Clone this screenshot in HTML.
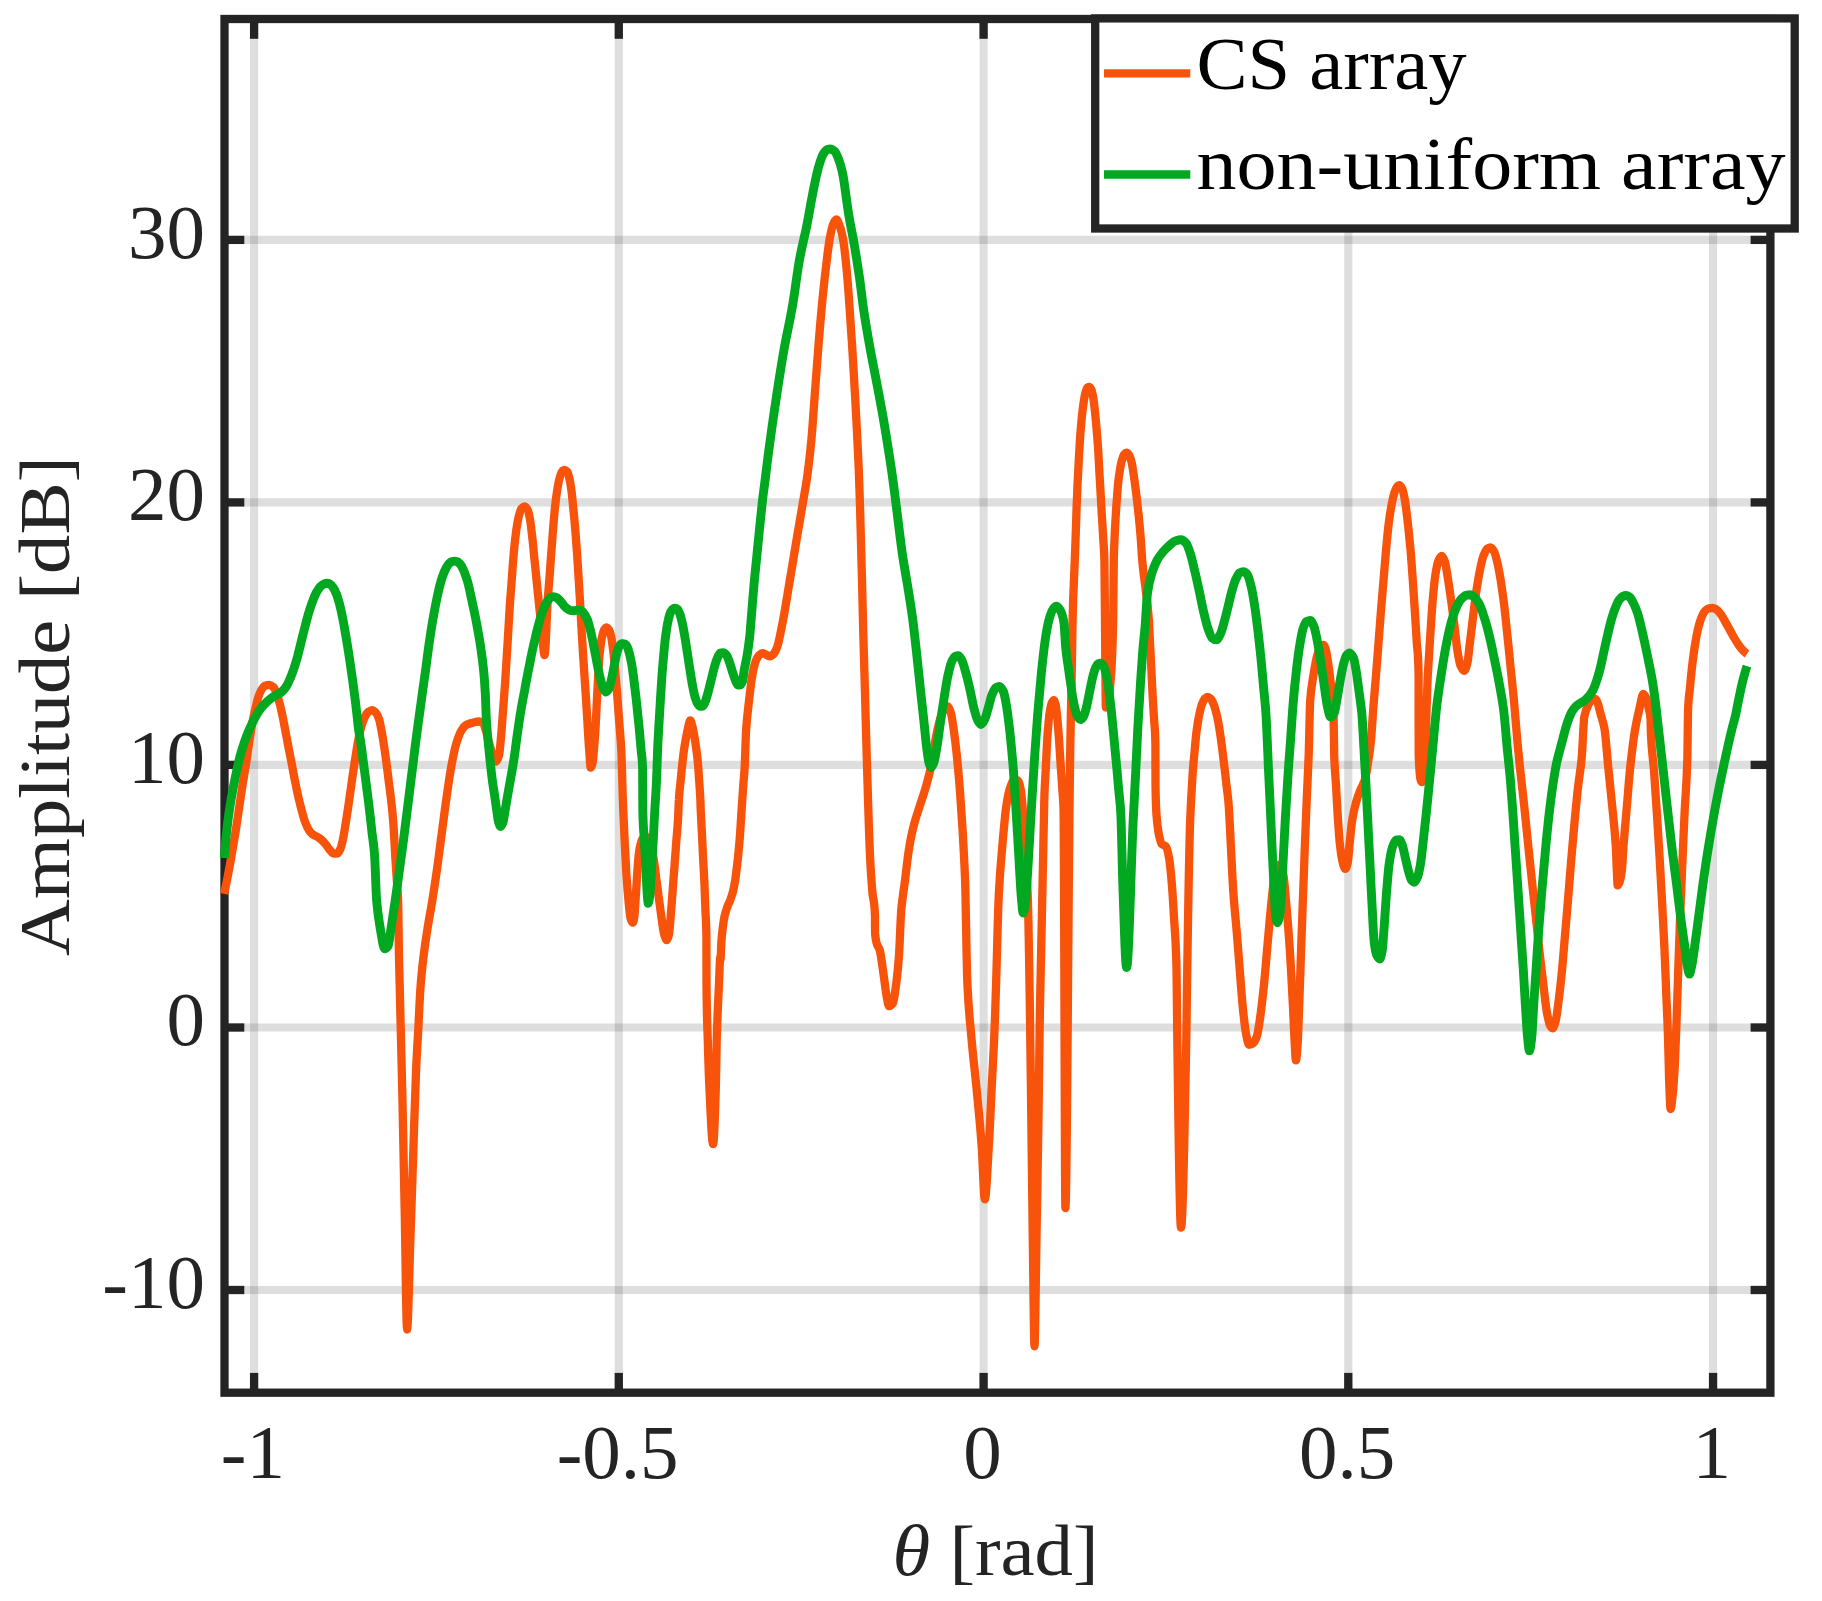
<!DOCTYPE html>
<html lang="en"><head><meta charset="utf-8"><title>Amplitude vs theta: CS array and non-uniform array</title>
<style>html,body{margin:0;padding:0;background:#fff}body{width:1822px;height:1601px;position:relative;overflow:hidden}</style></head>
<body>
<svg width="1822" height="1601" viewBox="0 0 1822 1601" style="position:absolute;left:0;top:0">
<rect x="0" y="0" width="1822" height="1601" fill="#fff"/>
<g stroke="#242424" stroke-opacity="0.15" stroke-width="8.1" fill="none"><line x1="254.1" y1="19.0" x2="254.1" y2="1392.7"/><line x1="618.8" y1="19.0" x2="618.8" y2="1392.7"/><line x1="983.6" y1="19.0" x2="983.6" y2="1392.7"/><line x1="1348.3" y1="19.0" x2="1348.3" y2="1392.7"/><line x1="1713.05" y1="19.0" x2="1713.05" y2="1392.7"/><line x1="224.5" y1="239.9" x2="1770.4" y2="239.9"/><line x1="224.5" y1="502.4" x2="1770.4" y2="502.4"/><line x1="224.5" y1="764.9" x2="1770.4" y2="764.9"/><line x1="224.5" y1="1027.5" x2="1770.4" y2="1027.5"/><line x1="224.5" y1="1290.0" x2="1770.4" y2="1290.0"/></g>
<g stroke="#242424" stroke-width="8.3" fill="none"><line x1="254.1" y1="1392.7" x2="254.1" y2="1372.9"/><line x1="254.1" y1="19.0" x2="254.1" y2="38.8"/><line x1="618.8" y1="1392.7" x2="618.8" y2="1372.9"/><line x1="618.8" y1="19.0" x2="618.8" y2="38.8"/><line x1="983.6" y1="1392.7" x2="983.6" y2="1372.9"/><line x1="983.6" y1="19.0" x2="983.6" y2="38.8"/><line x1="1348.3" y1="1392.7" x2="1348.3" y2="1372.9"/><line x1="1348.3" y1="19.0" x2="1348.3" y2="38.8"/><line x1="1713.05" y1="1392.7" x2="1713.05" y2="1372.9"/><line x1="1713.05" y1="19.0" x2="1713.05" y2="38.8"/><line x1="224.5" y1="239.9" x2="244.3" y2="239.9"/><line x1="1770.4" y1="239.9" x2="1750.6000000000001" y2="239.9"/><line x1="224.5" y1="502.4" x2="244.3" y2="502.4"/><line x1="1770.4" y1="502.4" x2="1750.6000000000001" y2="502.4"/><line x1="224.5" y1="764.9" x2="244.3" y2="764.9"/><line x1="1770.4" y1="764.9" x2="1750.6000000000001" y2="764.9"/><line x1="224.5" y1="1027.5" x2="244.3" y2="1027.5"/><line x1="1770.4" y1="1027.5" x2="1750.6000000000001" y2="1027.5"/><line x1="224.5" y1="1290.0" x2="244.3" y2="1290.0"/><line x1="1770.4" y1="1290.0" x2="1750.6000000000001" y2="1290.0"/></g>
<rect x="224.5" y="19.0" width="1545.9" height="1373.7" fill="none" stroke="#242424" stroke-width="8.3"/>
<path d="M224.1 893.8C227.7 877.9 231.4 857.3 235.0 835.2C236.3 827.7 237.5 818.5 238.8 810.2C240.0 801.8 241.3 793.0 242.5 785.2C243.6 778.6 244.6 773.0 245.7 766.4C246.7 759.7 247.7 752.0 248.8 745.1C249.8 738.2 250.9 730.8 251.9 725.1C253.0 719.4 254.0 714.6 255.0 710.1C256.1 705.5 257.1 700.7 258.2 697.5C259.2 694.4 260.3 691.7 261.3 690.0C262.5 688.1 263.8 686.1 265.0 685.7C266.4 685.2 267.8 684.8 269.2 684.8C270.5 684.8 271.8 685.8 273.2 686.9C274.2 687.8 275.3 690.1 276.3 692.5C277.4 694.9 278.4 698.7 279.4 702.6C280.5 706.4 281.5 711.3 282.6 716.3C283.6 721.3 284.7 727.2 285.7 732.6C286.7 738.0 287.8 743.4 288.8 748.9C289.9 754.3 290.9 759.7 292.0 765.1C293.0 770.6 294.0 776.2 295.1 781.4C296.1 786.6 297.2 791.9 298.2 796.4C299.3 801.0 300.3 805.0 301.3 808.9C302.4 812.9 303.4 817.2 304.5 820.2C305.5 823.2 306.6 825.8 307.6 827.7C308.8 830.0 310.1 832.2 311.4 833.3C312.6 834.5 313.9 835.1 315.1 835.8C316.4 836.6 317.6 836.9 318.9 837.7C320.1 838.5 321.4 839.6 322.6 840.9C323.9 842.1 325.1 843.7 326.4 845.2C327.6 846.8 328.9 848.9 330.1 850.2C331.4 851.6 332.6 853.7 333.9 853.7C335.1 853.7 336.4 853.6 337.6 853.4C338.7 853.2 339.7 850.4 340.8 847.7C341.6 845.6 342.4 841.7 343.3 837.7C344.1 833.7 344.9 827.9 345.8 822.7C346.6 817.5 347.4 812.1 348.3 806.4C349.1 800.8 349.9 794.8 350.8 788.9C351.6 783.1 352.4 777.0 353.3 771.4C354.1 765.8 354.9 760.3 355.8 755.1C356.6 749.9 357.4 744.4 358.3 740.1C359.3 734.8 360.4 729.9 361.4 726.3C362.4 722.8 363.5 719.6 364.5 717.6C365.8 715.1 367.0 712.9 368.3 711.9C369.5 711.0 370.8 710.1 372.0 710.1C373.3 710.1 374.5 711.3 375.8 712.6C376.8 713.6 377.9 715.9 378.9 718.8C379.8 721.2 380.6 725.8 381.4 730.1C382.3 734.4 383.1 739.7 383.9 745.1C384.8 750.5 385.6 756.4 386.4 762.6C387.3 768.9 388.1 776.0 388.9 782.7C389.8 789.3 390.6 795.0 391.4 802.7C392.1 808.4 392.7 814.4 393.3 822.7C393.9 831.0 394.6 845.3 395.2 855.4C396.0 868.9 396.9 880.1 397.7 893.0C397.8 895.3 398.0 896.4 398.1 900.0C398.4 906.8 398.7 942.8 399.0 957.5C399.5 981.9 400.0 995.2 400.4 1014.9C401.1 1042.6 401.8 1070.2 402.5 1101.1C403.2 1136.4 404.0 1178.0 404.8 1216.1C405.5 1254.1 406.3 1329.5 407.1 1329.5C408.1 1329.5 409.2 1274.7 410.2 1244.8C411.2 1217.6 412.1 1187.3 413.1 1158.6C414.0 1129.9 415.0 1094.3 416.0 1072.4C416.7 1054.9 417.5 1043.7 418.3 1029.3C419.0 1014.9 419.8 996.3 420.6 986.2C421.5 973.6 422.5 965.5 423.4 957.5C424.8 946.2 426.1 937.3 427.5 928.7C428.8 920.2 430.1 913.7 431.5 905.5C433.2 895.3 434.8 884.6 436.5 872.9C438.2 861.3 439.8 847.9 441.5 835.4C443.2 822.9 444.8 809.5 446.5 797.8C448.2 786.2 449.8 774.2 451.5 765.3C453.2 756.4 454.8 748.1 456.5 742.8C458.2 737.4 459.8 732.8 461.5 730.3C463.2 727.7 464.9 725.6 466.5 724.7C468.6 723.7 470.7 723.3 472.8 722.7C474.9 722.2 476.9 721.5 479.0 721.5C480.3 721.5 481.5 722.0 482.8 722.7C483.8 723.3 484.8 727.2 485.8 730.3C486.9 733.5 488.0 738.9 489.0 742.8C490.3 747.2 491.5 752.2 492.8 755.3C493.9 757.9 495.0 761.5 496.1 761.5C497.1 761.5 498.1 758.8 499.1 755.3C499.9 752.3 500.7 739.7 501.6 730.3C502.8 716.1 504.1 698.5 505.3 680.2C506.9 657.1 508.5 625.5 510.0 602.7C510.7 593.6 511.3 586.0 511.9 577.7C512.5 569.3 513.2 559.4 513.8 552.6C514.6 543.6 515.5 535.8 516.3 530.1C517.1 524.4 518.0 519.6 518.8 516.3C519.6 513.1 520.5 509.9 521.3 508.8C522.4 507.5 523.6 506.3 524.7 506.3C525.7 506.3 526.8 508.1 527.8 510.1C528.6 511.6 529.3 515.8 530.1 520.1C530.9 524.8 531.7 532.7 532.6 540.1C533.2 545.7 533.8 552.6 534.4 558.9C535.1 565.2 535.7 571.4 536.3 577.7C536.9 583.9 537.6 590.2 538.2 596.4C538.8 602.7 539.5 609.0 540.1 615.2C540.7 621.5 541.3 628.4 542.0 634.0C542.8 641.9 543.7 655.2 544.6 655.2C545.6 655.2 546.6 617.6 547.6 602.7C548.2 593.3 548.8 586.0 549.5 577.7C550.1 569.3 550.7 561.0 551.3 552.6C552.0 544.3 552.6 535.3 553.2 527.6C553.8 519.9 554.5 512.0 555.1 506.3C555.9 498.7 556.8 492.3 557.6 487.6C558.4 482.9 559.3 478.8 560.1 476.3C560.9 473.8 561.8 471.2 562.6 470.7C563.3 470.2 564.0 469.8 564.7 469.8C565.6 469.8 566.5 470.8 567.4 471.9C568.1 472.9 568.8 475.8 569.5 478.8C570.1 481.4 570.7 485.5 571.4 490.1C572.0 494.6 572.6 501.4 573.2 507.6C573.9 513.8 574.5 520.2 575.1 527.6C575.7 535.0 576.4 543.7 577.0 552.6C577.5 560.4 578.1 569.0 578.6 577.7C579.1 585.7 579.6 593.8 580.1 602.7C580.5 609.7 580.9 618.1 581.3 625.0C581.8 633.9 582.3 642.0 582.8 650.1C583.3 658.7 583.9 666.8 584.4 675.1C585.0 683.4 585.5 691.4 586.1 700.1C586.6 708.1 587.1 717.1 587.6 725.2C588.1 733.8 588.6 743.1 589.2 750.2C589.7 756.8 590.2 767.5 590.7 767.5C591.3 767.5 591.9 765.2 592.6 762.7C593.2 760.2 593.8 751.5 594.4 743.9C594.9 738.9 595.3 732.3 595.7 725.2C596.1 718.0 596.5 708.5 596.9 700.1C597.4 691.8 597.8 682.0 598.2 675.1C598.7 666.1 599.3 657.7 599.8 652.6C600.5 645.8 601.2 640.7 601.9 637.5C602.8 633.8 603.6 630.8 604.4 629.4C605.1 628.4 605.7 627.3 606.3 627.3C607.2 627.3 608.0 628.3 608.8 629.4C609.6 630.4 610.3 633.1 611.1 636.3C611.7 638.8 612.2 643.1 612.8 647.6C613.4 651.7 613.9 657.0 614.5 662.6C615.0 668.1 615.5 674.8 616.1 681.4C616.6 687.4 617.1 693.7 617.6 700.1C618.2 708.2 618.8 716.8 619.5 725.2C620.1 733.5 620.7 738.1 621.3 750.2C621.8 759.5 622.3 784.4 622.8 797.5C623.3 812.3 623.9 823.5 624.4 835.1C625.0 848.5 625.7 862.9 626.3 872.6C627.1 885.6 628.0 895.9 628.8 903.9C629.4 910.0 630.0 917.1 630.7 918.9C631.4 921.0 632.1 922.7 632.8 922.7C633.3 922.7 633.9 919.9 634.4 916.4C634.8 913.8 635.3 903.9 635.7 897.7C636.1 891.4 636.5 885.2 636.9 878.9C637.3 872.6 637.8 864.3 638.2 860.1C638.8 853.8 639.4 849.1 640.1 846.4C640.9 842.7 641.7 839.8 642.6 838.8C643.7 837.6 644.9 836.6 646.1 836.6C647.4 836.6 648.7 839.6 650.1 842.6C651.3 845.5 652.6 852.8 653.8 860.1C654.7 865.0 655.5 872.6 656.3 878.9C657.2 885.2 658.0 891.4 658.8 897.7C659.7 903.9 660.5 910.6 661.3 916.4C662.2 922.3 663.0 929.5 663.8 932.7C664.7 936.3 665.7 940.2 666.6 940.2C667.3 940.2 668.1 938.0 668.8 935.2C669.5 932.9 670.1 923.6 670.7 916.4C671.3 909.3 672.0 899.8 672.6 891.4C673.2 883.1 673.8 874.7 674.5 866.4C675.1 858.0 675.7 849.7 676.3 841.4C677.0 833.0 677.6 828.0 678.2 816.3C678.4 812.4 678.6 803.4 678.9 800.0C679.4 790.5 680.0 787.2 680.6 781.2C681.2 774.7 681.8 768.0 682.5 762.5C683.1 757.0 683.7 751.9 684.3 747.7C685.1 742.9 685.8 739.0 686.5 735.2C687.2 731.9 687.8 728.6 688.4 726.2C689.0 723.9 689.7 720.3 690.3 720.3C690.9 720.3 691.5 723.4 692.2 725.6C692.8 728.0 693.5 731.4 694.2 735.2C694.8 738.6 695.5 743.1 696.1 747.7C696.7 752.2 697.3 756.0 697.9 762.5C698.3 766.9 698.7 774.9 699.2 781.2C699.6 787.5 700.0 791.2 700.4 800.0C700.5 802.4 700.6 807.2 700.7 810.1C701.2 820.3 701.6 826.8 702.0 835.1C702.4 843.4 702.8 851.8 703.2 860.1C703.7 868.5 704.1 875.2 704.5 885.2C704.8 892.1 705.1 902.4 705.4 910.2C705.7 919.1 706.0 914.8 706.4 935.2C706.4 937.7 706.5 979.6 706.5 983.7C706.9 1024.9 707.3 1023.3 707.7 1037.4C708.3 1059.7 708.9 1078.3 709.6 1091.1C710.7 1114.9 711.9 1144.1 713.1 1144.1C714.0 1144.1 714.9 1118.1 715.7 1091.1C716.1 1080.4 716.5 1049.8 716.8 1037.4C717.5 1012.6 718.3 999.5 719.0 983.7C719.4 973.9 719.9 956.9 720.3 956.9C720.4 956.9 720.4 960.0 720.4 960.0C720.8 960.0 721.1 945.8 721.4 941.5C721.8 935.9 722.2 932.3 722.6 929.0C723.3 923.9 723.9 919.4 724.5 916.4C725.4 912.6 726.2 910.1 727.0 907.7C728.1 904.7 729.1 903.0 730.2 900.2C731.0 897.9 731.8 895.8 732.7 892.7C733.5 889.5 734.3 885.3 735.2 880.2C736.0 875.0 736.8 867.6 737.7 860.1C738.3 854.5 738.9 849.0 739.5 841.4C740.0 836.3 740.4 828.8 740.8 822.6C741.2 816.3 741.6 810.1 742.0 803.8C742.5 797.5 742.9 790.6 743.3 785.0C743.7 779.5 744.1 776.8 744.5 770.0C745.1 761.7 745.6 738.0 746.1 730.3C747.1 715.1 748.1 708.9 749.1 700.2C750.2 690.8 751.2 681.1 752.3 675.2C753.4 669.3 754.5 664.2 755.6 661.4C756.8 658.5 757.9 656.2 759.1 655.2C760.2 654.2 761.3 653.2 762.3 653.2C763.6 653.2 764.8 654.1 766.1 654.7C767.4 655.2 768.6 656.4 769.9 656.4C771.1 656.4 772.4 655.2 773.6 653.9C774.9 652.7 776.1 649.8 777.4 646.4C778.6 643.0 779.9 636.1 781.1 630.1C782.4 624.1 783.6 617.2 784.9 610.1C786.1 603.0 787.4 595.1 788.6 587.6C789.9 580.1 791.1 572.6 792.4 565.0C793.6 557.5 794.9 550.0 796.1 542.5C798.2 530.1 800.3 517.9 802.4 505.5C804.1 495.5 805.7 487.4 807.4 475.4C808.6 466.5 809.9 456.0 811.1 442.9C812.4 429.7 813.7 409.5 814.9 392.8C816.2 376.1 817.4 358.1 818.7 342.8C819.9 327.4 821.2 313.0 822.4 300.2C823.7 287.4 824.9 275.4 826.2 265.2C827.4 254.9 828.7 244.3 829.9 237.6C831.0 231.9 832.1 226.3 833.2 223.9C834.2 221.7 835.2 219.4 836.2 219.4C837.4 219.4 838.7 223.1 839.9 226.4C841.0 229.2 842.1 234.0 843.2 240.1C844.2 245.8 845.2 255.2 846.2 265.2C847.3 275.9 848.4 290.5 849.4 305.2C850.4 318.8 851.4 334.3 852.4 350.3C853.3 363.6 854.1 377.9 854.9 392.8C855.6 404.8 856.3 417.0 856.9 430.4C857.5 442.1 858.1 453.2 858.7 467.9C859.1 478.4 859.5 491.7 860.0 505.5C860.6 527.5 861.3 554.2 862.0 580.1C862.4 596.2 862.8 614.3 863.2 630.1C863.8 652.2 864.4 671.8 865.0 692.7C865.5 713.6 866.1 735.2 866.7 755.3C867.2 772.5 867.7 789.9 868.2 805.3C868.8 823.4 869.4 843.7 870.0 855.4C870.8 872.1 871.6 883.6 872.5 893.0C873.3 902.3 874.1 896.1 875.0 915.5C875.0 916.4 875.0 933.6 875.1 934.0C876.8 950.4 878.4 943.8 880.1 951.5C881.4 957.7 882.8 969.2 884.1 978.3C885.0 984.5 885.9 992.5 886.8 997.1C887.5 1000.8 888.2 1006.0 889.0 1006.0C890.3 1006.0 891.6 1004.9 893.0 1003.1C894.1 1001.6 895.1 991.8 896.2 983.7C897.1 977.0 898.0 968.8 898.9 956.9C899.7 946.4 900.5 919.7 901.2 910.5C902.5 895.8 903.8 890.5 905.0 880.4C906.3 870.4 907.5 858.2 908.8 850.4C910.4 840.0 912.1 831.9 913.8 825.4C915.8 817.2 917.9 812.0 920.0 805.3C922.1 798.7 924.2 792.8 926.3 785.3C927.9 779.4 929.6 773.3 931.3 765.3C932.9 757.3 934.6 743.3 936.3 735.3C938.0 727.2 939.6 719.6 941.3 715.2C942.5 711.9 943.8 708.7 945.0 707.7C945.9 707.1 946.7 706.5 947.5 706.5C948.6 706.5 949.7 709.6 950.8 712.7C951.8 715.6 952.8 723.4 953.8 730.3C954.8 737.1 955.8 745.6 956.8 755.3C957.9 765.8 959.0 778.6 960.1 792.8C960.9 803.8 961.7 816.1 962.6 830.4C963.4 844.7 964.2 857.3 965.1 880.4C965.8 901.8 966.6 967.1 967.4 983.7C968.7 1012.7 970.1 1022.0 971.4 1037.4C973.2 1058.0 975.0 1072.3 976.8 1091.1C978.4 1108.1 980.0 1122.9 981.6 1144.9C982.7 1159.5 983.8 1199.4 984.8 1199.4C986.2 1199.4 987.5 1166.8 988.9 1144.9C989.8 1130.2 990.7 1109.1 991.5 1091.1C992.4 1073.2 993.3 1058.7 994.2 1037.4C994.9 1022.5 995.5 1002.8 996.1 983.7C997.0 955.8 997.9 910.7 998.9 893.0C1000.1 868.6 1001.4 857.2 1002.6 842.9C1003.9 828.6 1005.1 813.3 1006.4 805.3C1007.6 797.4 1008.9 791.3 1010.1 787.8C1011.4 784.3 1012.6 780.3 1013.9 780.3C1015.1 780.3 1016.4 780.3 1017.6 780.3C1018.7 780.3 1019.8 785.0 1020.9 790.3C1021.7 794.4 1022.5 805.5 1023.4 817.9C1024.0 826.5 1024.6 845.0 1025.1 855.4C1026.0 870.3 1026.8 873.5 1027.6 893.0C1028.4 910.9 1029.2 961.7 1029.9 1010.6C1030.4 1039.0 1030.8 1082.2 1031.3 1118.0C1031.7 1153.8 1032.2 1193.3 1032.6 1225.4C1033.3 1270.4 1033.9 1346.3 1034.5 1346.3C1035.2 1346.3 1035.9 1266.0 1036.7 1225.4C1037.3 1189.9 1037.9 1160.2 1038.5 1118.0C1039.0 1087.9 1039.4 1038.6 1039.9 1010.6C1041.4 916.3 1042.9 834.6 1044.4 795.2C1044.8 784.3 1045.2 778.5 1045.7 770.2C1046.1 761.8 1046.5 752.3 1046.9 745.2C1047.3 738.0 1047.7 731.0 1048.2 726.4C1048.8 719.4 1049.4 713.5 1050.0 710.1C1050.7 706.7 1051.3 703.9 1051.9 702.6C1052.5 701.4 1053.2 700.1 1053.8 700.1C1054.4 700.1 1055.0 702.6 1055.7 705.1C1056.2 707.3 1056.7 712.5 1057.3 717.6C1057.7 721.6 1058.1 727.1 1058.5 732.6C1059.0 738.2 1059.4 745.2 1059.8 751.4C1060.2 757.7 1060.6 763.9 1061.0 770.2C1061.5 776.4 1061.9 782.7 1062.3 789.0C1062.7 795.2 1063.1 796.7 1063.5 807.7C1064.2 824.1 1064.8 1208.0 1065.4 1208.0C1066.9 1208.0 1068.3 902.7 1069.8 782.7C1070.0 769.1 1070.1 755.2 1070.3 745.2C1070.5 732.5 1070.7 724.3 1070.9 713.9C1071.1 703.4 1071.3 694.2 1071.6 682.6C1071.7 673.3 1071.9 661.7 1072.1 651.3C1072.2 640.9 1072.4 626.9 1072.6 620.0C1073.3 589.5 1074.0 580.6 1074.8 560.0C1075.1 551.9 1075.4 543.5 1075.7 535.2C1076.0 526.9 1076.2 518.0 1076.5 510.2C1076.9 501.3 1077.2 492.6 1077.5 485.2C1078.0 475.8 1078.4 467.7 1078.8 460.1C1079.3 451.0 1079.8 441.9 1080.3 435.1C1080.8 427.7 1081.4 421.5 1081.9 416.3C1082.5 410.4 1083.2 405.2 1083.8 401.3C1084.4 397.5 1085.0 393.9 1085.7 391.9C1086.3 389.9 1086.9 388.0 1087.6 387.5C1088.1 387.2 1088.6 386.9 1089.1 386.9C1089.8 386.9 1090.6 388.1 1091.3 389.4C1091.9 390.5 1092.6 394.0 1093.2 397.5C1093.8 401.1 1094.4 406.8 1095.1 412.6C1095.6 417.6 1096.1 423.6 1096.7 430.1C1097.2 436.1 1097.7 442.4 1098.2 450.1C1098.6 456.5 1099.0 465.1 1099.4 472.6C1099.9 480.2 1100.3 487.9 1100.7 495.2C1101.1 502.5 1101.5 509.4 1101.9 516.4C1102.4 523.5 1102.8 530.5 1103.2 537.7C1103.6 545.0 1104.0 546.7 1104.4 560.0C1104.7 569.5 1105.0 626.5 1105.3 657.5C1105.5 674.9 1105.7 707.6 1105.8 707.6C1106.4 707.6 1107.0 707.1 1107.6 706.4C1108.8 704.9 1110.1 688.8 1111.4 670.1C1112.0 660.7 1112.6 649.2 1113.2 620.0C1113.4 610.6 1113.6 569.2 1113.8 560.0C1114.1 546.7 1114.4 541.8 1114.7 535.2C1115.0 527.7 1115.4 522.0 1115.7 516.4C1116.1 509.5 1116.5 503.2 1117.0 497.7C1117.4 492.1 1117.8 486.5 1118.2 482.7C1118.8 476.9 1119.5 472.5 1120.1 468.9C1120.7 465.3 1121.3 462.3 1122.0 460.1C1122.7 457.7 1123.4 455.3 1124.1 454.5C1124.9 453.5 1125.8 452.6 1126.6 452.6C1127.4 452.6 1128.3 453.9 1129.1 455.1C1129.8 456.2 1130.6 458.6 1131.4 461.4C1132.0 463.7 1132.6 467.5 1133.2 471.4C1133.9 475.3 1134.5 480.4 1135.1 485.2C1135.7 489.9 1136.4 494.8 1137.0 500.2C1137.6 505.6 1138.2 511.5 1138.9 517.7C1139.5 523.9 1140.1 529.9 1140.7 537.7C1141.2 544.0 1141.7 554.1 1142.2 560.0C1144.5 586.2 1146.7 589.8 1148.9 620.0C1149.3 625.7 1149.7 636.7 1150.1 645.0C1150.6 653.4 1151.0 661.7 1151.4 670.1C1151.8 678.4 1152.2 687.5 1152.6 695.1C1153.1 704.2 1153.6 711.0 1154.1 720.1C1154.6 727.7 1155.0 724.3 1155.4 745.2C1155.4 747.2 1155.5 782.3 1155.5 785.1C1155.9 808.6 1156.2 810.5 1156.5 815.1C1157.4 826.6 1158.2 831.1 1159.0 835.1C1159.9 839.2 1160.7 843.0 1161.5 843.9C1163.0 845.4 1164.4 844.9 1165.8 846.4C1166.9 847.5 1168.0 852.1 1169.0 857.7C1169.9 861.9 1170.7 870.8 1171.5 880.2C1172.4 889.6 1173.2 903.4 1174.0 917.7C1174.9 932.0 1175.7 936.4 1176.5 967.8C1176.8 977.1 1177.0 1022.4 1177.3 1040.0C1178.5 1129.1 1179.8 1227.7 1181.0 1227.7C1182.8 1227.7 1184.5 1134.9 1186.3 1040.0C1186.6 1026.3 1186.8 996.7 1187.1 980.3C1188.1 912.8 1189.1 848.0 1190.2 820.0C1190.6 808.8 1191.0 802.8 1191.4 795.2C1191.9 786.1 1192.4 777.0 1192.9 770.2C1193.5 762.8 1194.0 757.2 1194.6 751.4C1195.2 744.7 1195.8 737.6 1196.4 732.6C1197.3 726.0 1198.1 720.5 1198.9 716.4C1200.0 711.2 1201.0 706.4 1202.1 703.9C1203.1 701.3 1204.2 699.0 1205.2 698.2C1206.0 697.6 1206.9 697.0 1207.7 697.0C1208.7 697.0 1209.8 697.9 1210.8 698.8C1211.9 699.8 1212.9 702.4 1214.0 705.1C1215.0 707.8 1216.0 711.8 1217.1 716.4C1217.9 720.0 1218.8 725.0 1219.6 730.1C1220.4 735.3 1221.3 741.3 1222.1 747.7C1222.8 753.0 1223.5 759.2 1224.2 765.2C1224.9 770.8 1225.6 776.8 1226.2 782.7C1226.9 788.9 1227.6 793.4 1228.4 801.5C1230.0 820.4 1231.7 869.5 1233.4 892.7C1234.4 907.8 1235.5 917.2 1236.6 930.3C1237.6 942.3 1238.6 955.3 1239.6 967.8C1240.6 980.3 1241.6 995.2 1242.6 1005.3C1243.7 1016.3 1244.8 1027.3 1245.9 1032.9C1247.0 1038.5 1248.0 1044.9 1249.1 1044.9C1250.5 1044.9 1252.0 1044.0 1253.4 1042.9C1254.6 1041.9 1255.9 1039.2 1257.1 1035.4C1258.1 1032.3 1259.1 1024.8 1260.1 1017.9C1261.2 1010.4 1262.3 1000.6 1263.4 990.3C1264.5 980.0 1265.6 967.4 1266.6 955.3C1267.6 944.1 1268.7 931.0 1269.7 920.2C1270.7 909.5 1271.7 897.9 1272.7 890.2C1273.7 881.9 1274.8 872.8 1275.9 870.2C1277.2 867.2 1278.4 864.7 1279.7 864.7C1280.9 864.7 1282.2 869.5 1283.4 875.2C1284.3 879.0 1285.1 891.1 1285.9 900.2C1286.8 909.3 1287.6 919.1 1288.4 930.3C1289.3 941.4 1290.1 953.8 1290.9 967.8C1291.6 979.0 1292.3 992.0 1292.9 1005.3C1293.5 1017.0 1294.1 1033.1 1294.7 1042.9C1295.1 1049.9 1295.5 1060.4 1295.9 1060.4C1296.5 1060.4 1297.1 1051.3 1297.7 1042.9C1298.2 1035.7 1298.7 1018.7 1299.2 1005.3C1299.8 989.8 1300.4 972.0 1300.9 955.3C1301.5 938.6 1302.1 921.6 1302.7 905.2C1303.4 886.5 1304.0 867.6 1304.7 850.2C1305.4 832.7 1306.0 815.9 1306.7 800.1C1307.4 784.3 1308.0 773.8 1308.7 755.0C1309.2 741.0 1309.7 707.4 1310.2 700.5C1311.3 685.5 1312.4 682.3 1313.4 675.4C1314.7 667.5 1316.0 659.7 1317.2 655.4C1318.5 651.1 1319.7 646.7 1321.0 645.9C1321.8 645.3 1322.6 644.9 1323.5 644.9C1324.3 644.9 1325.1 647.7 1326.0 650.4C1326.8 653.1 1327.6 659.7 1328.5 665.4C1329.3 671.1 1330.1 678.0 1331.0 685.4C1331.8 692.9 1332.6 694.1 1333.5 710.5C1333.7 715.4 1334.0 747.8 1334.2 755.0C1334.8 771.8 1335.4 775.1 1336.0 785.1C1336.6 795.1 1337.1 806.2 1337.7 815.1C1338.4 825.3 1339.1 836.4 1339.7 842.6C1340.6 850.5 1341.4 856.7 1342.2 860.2C1343.2 864.3 1344.2 868.9 1345.2 868.9C1346.1 868.9 1346.9 866.1 1347.7 862.7C1348.4 859.9 1349.1 849.0 1349.7 842.6C1350.6 834.7 1351.4 825.4 1352.2 820.1C1353.5 812.3 1354.7 807.1 1356.0 802.6C1357.4 797.4 1358.8 793.7 1360.3 790.1C1361.8 786.3 1363.3 784.8 1364.8 780.1C1366.0 776.1 1367.3 768.2 1368.5 760.0C1369.3 754.6 1370.2 748.5 1371.0 740.0C1371.8 731.6 1372.7 716.2 1373.5 705.5C1374.3 694.8 1375.2 685.8 1376.0 675.4C1376.9 665.0 1377.7 653.7 1378.5 642.9C1379.4 632.0 1380.2 620.8 1381.0 610.4C1381.9 599.9 1382.7 590.3 1383.5 580.3C1384.4 570.3 1385.2 559.4 1386.0 550.3C1386.9 541.2 1387.7 532.0 1388.5 525.2C1389.5 517.2 1390.5 510.4 1391.5 505.2C1392.6 499.6 1393.7 494.4 1394.8 491.5C1395.6 489.2 1396.5 487.2 1397.3 486.4C1398.0 485.8 1398.6 485.2 1399.3 485.2C1400.3 485.2 1401.3 487.0 1402.3 488.9C1403.3 490.9 1404.3 496.8 1405.3 502.7C1406.2 508.1 1407.1 517.0 1408.1 525.2C1408.9 532.8 1409.7 540.7 1410.6 550.3C1411.3 558.9 1412.1 569.7 1412.8 580.3C1413.5 589.7 1414.1 599.9 1414.8 610.4C1415.5 620.8 1416.1 631.3 1416.8 642.9C1417.4 653.0 1418.0 646.3 1418.6 675.4C1418.6 677.4 1418.6 754.1 1418.7 755.0C1419.7 780.5 1420.8 782.1 1421.8 782.1C1422.8 782.1 1423.8 768.5 1424.8 755.0C1425.8 741.6 1426.8 695.3 1427.8 675.4C1428.5 662.2 1429.2 653.3 1429.8 642.9C1430.7 629.9 1431.5 615.4 1432.3 605.3C1433.3 593.3 1434.3 581.7 1435.3 575.3C1436.4 568.4 1437.5 562.7 1438.6 560.3C1439.6 558.0 1440.6 555.8 1441.6 555.8C1442.7 555.8 1443.8 558.6 1444.8 561.5C1445.8 564.2 1446.8 571.7 1447.8 577.8C1448.9 584.4 1450.0 592.4 1451.1 600.3C1452.2 608.2 1453.3 616.7 1454.4 625.4C1455.4 633.4 1456.4 644.1 1457.4 650.4C1458.4 656.7 1459.4 663.1 1460.4 665.4C1461.6 668.3 1462.9 670.9 1464.1 670.9C1465.2 670.9 1466.3 667.1 1467.4 662.9C1468.2 659.7 1469.0 649.7 1469.9 642.9C1470.9 634.7 1471.9 625.9 1472.9 617.9C1474.0 609.2 1475.0 600.2 1476.1 592.8C1477.4 584.4 1478.6 576.3 1479.9 570.3C1481.1 564.3 1482.4 558.4 1483.6 555.3C1484.9 552.2 1486.1 549.4 1487.4 548.5C1488.4 547.9 1489.4 547.3 1490.4 547.3C1491.6 547.3 1492.9 549.4 1494.1 551.5C1495.2 553.4 1496.3 558.2 1497.4 562.8C1498.5 567.4 1499.6 573.7 1500.7 580.3C1501.8 587.5 1503.0 595.9 1504.2 605.3C1505.2 614.1 1506.3 625.0 1507.4 635.4C1508.4 645.0 1509.4 655.4 1510.4 665.4C1511.5 676.3 1512.6 686.5 1513.7 698.0C1515.3 715.7 1517.0 738.1 1518.7 755.0C1519.8 766.0 1520.8 775.0 1521.9 785.1C1523.1 795.9 1524.3 806.4 1525.4 817.6C1526.5 828.1 1527.6 839.7 1528.7 850.2C1529.9 862.2 1531.2 873.5 1532.4 885.2C1533.7 896.9 1534.9 908.6 1536.2 920.2C1537.4 931.9 1538.7 944.0 1539.9 955.3C1541.2 966.5 1542.5 977.6 1543.7 987.8C1544.8 996.7 1545.9 1007.0 1547.0 1012.9C1548.0 1018.2 1549.0 1023.5 1550.0 1025.4C1550.8 1026.9 1551.6 1028.4 1552.5 1028.4C1553.5 1028.4 1554.5 1024.9 1555.5 1021.6C1556.6 1018.0 1557.6 1008.6 1558.7 1000.3C1559.8 992.0 1560.9 981.5 1562.0 970.3C1563.0 960.0 1564.0 946.9 1565.0 935.3C1566.0 923.6 1567.0 912.2 1568.0 900.2C1569.1 887.2 1570.1 873.1 1571.2 860.2C1572.3 847.2 1573.4 834.2 1574.5 822.6C1575.7 810.1 1576.8 798.0 1578.0 787.6C1579.2 776.4 1580.5 771.1 1581.7 757.5C1582.6 748.2 1583.5 721.2 1584.3 716.7C1585.6 710.1 1586.8 707.9 1588.1 705.5C1589.3 703.0 1590.6 700.4 1591.8 699.8C1593.0 699.3 1594.1 698.9 1595.2 698.9C1596.1 698.9 1597.0 701.4 1597.8 703.6C1598.6 705.6 1599.5 709.8 1600.3 712.9C1601.7 718.3 1603.1 721.0 1604.5 728.7C1605.7 735.8 1607.0 754.5 1608.3 767.5C1609.6 780.4 1610.9 792.6 1612.2 806.2C1613.4 818.4 1614.5 826.9 1615.7 844.9C1616.1 850.9 1616.5 862.1 1616.8 870.1C1617.1 875.4 1617.4 885.4 1617.6 885.4C1618.3 885.4 1619.0 883.6 1619.7 881.7C1620.5 879.8 1621.2 875.8 1621.9 870.1C1622.5 865.4 1623.0 852.5 1623.6 844.9C1624.7 830.5 1625.8 819.1 1626.9 806.2C1628.0 793.3 1629.1 777.8 1630.2 767.5C1631.9 751.6 1633.5 738.6 1635.2 728.7C1636.7 720.0 1638.2 713.6 1639.7 707.4C1640.9 702.3 1642.1 693.8 1643.4 693.8C1644.3 693.8 1645.3 695.9 1646.2 698.0C1646.9 699.6 1647.7 703.8 1648.4 707.3C1649.1 710.6 1649.8 710.6 1650.5 718.6C1650.6 720.0 1650.8 731.0 1650.9 733.7C1651.9 755.6 1652.9 756.6 1654.0 770.3C1654.9 782.7 1655.8 797.9 1656.8 812.4C1657.7 826.9 1658.7 841.6 1659.6 857.4C1660.4 871.6 1661.3 886.5 1662.1 902.4C1662.9 916.5 1663.6 930.9 1664.4 947.3C1665.0 961.8 1665.7 979.0 1666.3 995.1C1666.9 1009.0 1667.5 1020.2 1668.0 1037.3C1668.4 1048.7 1668.8 1069.3 1669.1 1079.4C1669.6 1092.2 1670.1 1109.0 1670.6 1109.0C1671.3 1109.0 1672.1 1100.5 1672.8 1093.5C1673.5 1087.4 1674.1 1077.4 1674.8 1065.4C1675.3 1055.1 1675.9 1038.6 1676.5 1023.2C1676.9 1010.4 1677.4 994.8 1677.9 981.1C1678.5 961.9 1679.2 942.4 1679.8 924.9C1680.6 904.8 1681.3 886.3 1682.1 868.6C1682.9 848.8 1683.8 830.2 1684.6 812.4C1685.5 792.7 1686.5 790.5 1687.4 756.2C1687.6 749.2 1687.8 715.7 1688.0 711.1C1688.6 696.1 1689.2 695.4 1689.9 688.6C1690.6 680.4 1691.4 672.5 1692.1 666.1C1693.1 658.1 1694.0 651.3 1694.9 645.5C1696.0 638.9 1697.0 633.0 1698.1 628.6C1699.2 624.0 1700.4 620.0 1701.5 617.4C1702.7 614.5 1704.0 612.0 1705.2 610.8C1706.5 609.6 1707.7 608.6 1709.0 608.4C1710.2 608.2 1711.5 608.0 1712.7 608.0C1714.0 608.0 1715.2 608.8 1716.5 609.5C1717.7 610.2 1719.0 612.0 1720.2 613.6C1721.8 615.7 1723.4 618.5 1724.9 621.1C1726.5 623.8 1728.0 626.8 1729.6 629.6C1731.2 632.4 1732.7 635.3 1734.3 638.0C1735.8 640.6 1737.4 643.3 1739.0 645.5C1740.5 647.6 1742.1 649.6 1743.7 651.1C1744.8 652.2 1745.9 653.2 1747.0 653.9" fill="none" stroke="#F8530B" stroke-width="8.3" stroke-linejoin="round" stroke-linecap="butt"/>
<path d="M224.3 858.0C224.9 849.5 225.6 841.6 226.3 835.2C227.3 825.3 228.3 817.3 229.4 810.2C230.4 803.0 231.5 797.1 232.5 791.4C233.8 784.6 235.0 778.5 236.3 772.6C237.5 766.8 238.8 761.1 240.0 756.4C241.3 751.7 242.5 747.6 243.8 743.9C245.0 740.1 246.3 737.0 247.5 733.8C248.8 730.7 250.0 727.8 251.3 725.1C252.5 722.4 253.8 719.8 255.0 717.6C256.3 715.3 257.5 713.2 258.8 711.3C260.0 709.5 261.3 707.7 262.5 706.3C264.0 704.6 265.5 703.3 266.9 701.9C268.4 700.6 269.8 699.2 271.3 698.2C273.0 697.0 274.6 696.1 276.3 695.0C278.0 694.0 279.6 693.4 281.3 692.1C283.0 690.8 284.6 688.9 286.3 686.4C287.5 684.6 288.8 681.8 290.0 678.9C291.3 676.1 292.5 672.6 293.8 668.9C295.0 665.2 296.3 660.9 297.6 656.4C298.8 651.8 300.1 646.4 301.3 641.4C302.6 636.4 303.8 631.1 305.1 626.4C306.3 621.6 307.6 616.7 308.8 612.6C310.1 608.5 311.3 604.6 312.6 601.3C313.8 598.0 315.1 594.9 316.3 592.6C317.6 590.3 318.8 588.2 320.1 586.9C321.3 585.7 322.6 584.6 323.8 584.1C324.9 583.6 325.9 583.2 327.0 583.2C328.0 583.2 329.0 583.6 330.1 584.1C331.1 584.5 332.2 586.1 333.2 587.6C334.3 589.1 335.3 591.2 336.3 593.8C337.4 596.4 338.4 600.0 339.5 603.8C340.5 607.7 341.6 612.5 342.6 617.6C343.4 621.7 344.3 626.6 345.1 631.4C345.9 636.2 346.8 641.2 347.6 646.4C348.4 651.6 349.3 657.0 350.1 662.7C350.9 668.3 351.8 674.1 352.6 680.2C353.4 686.2 354.3 692.2 355.1 698.9C355.7 704.0 356.4 709.8 357.0 715.2C357.6 720.6 358.2 727.1 358.9 731.5C359.5 735.9 360.1 738.5 360.8 742.6C361.8 749.4 362.9 758.5 363.9 766.4C365.0 774.3 366.0 782.0 367.0 790.2C367.9 796.7 368.7 803.1 369.5 810.2C370.4 817.3 371.2 825.4 372.0 832.7C372.9 840.0 373.7 843.6 374.5 854.0C375.2 862.5 375.9 891.8 376.6 900.0C377.8 915.0 379.1 921.5 380.3 928.7C381.8 937.1 383.2 948.8 384.6 948.8C385.8 948.8 386.9 947.7 388.1 946.0C389.0 944.5 390.0 934.8 391.0 928.7C392.4 919.7 393.8 909.9 395.3 900.0C397.1 887.2 399.0 873.5 400.8 860.0C401.7 853.9 402.5 847.9 403.3 841.5C404.4 833.5 405.4 824.8 406.5 816.4C407.5 808.1 408.5 799.8 409.6 791.4C410.6 783.1 411.7 774.7 412.7 766.4C413.8 758.0 414.8 749.5 415.8 741.4C416.9 733.2 417.9 725.3 419.0 717.6C420.0 709.9 421.1 702.6 422.1 695.0C423.2 686.8 424.4 678.6 425.6 670.2C426.7 662.0 427.8 652.9 428.9 645.2C430.2 636.2 431.5 627.6 432.8 620.1C434.4 610.9 436.0 602.3 437.6 595.1C438.8 589.4 440.1 584.1 441.3 580.1C442.6 576.1 443.8 572.6 445.1 570.1C446.3 567.5 447.6 565.0 448.8 563.8C449.9 562.8 450.9 561.9 452.0 561.6C452.8 561.3 453.6 561.1 454.5 561.1C455.3 561.1 456.1 561.3 457.0 561.6C458.0 561.9 459.0 562.9 460.1 564.1C461.1 565.2 462.2 567.3 463.2 569.4C464.3 571.6 465.3 574.4 466.3 577.6C467.2 580.1 468.0 583.0 468.8 586.3C469.5 588.9 470.1 592.1 470.7 595.1C472.5 603.3 474.2 611.0 476.0 620.1C477.4 627.7 478.9 635.5 480.4 645.2C481.4 652.3 482.5 659.0 483.6 670.2C484.2 676.2 484.8 684.4 485.4 695.2C485.7 701.4 486.0 714.5 486.4 720.0C487.2 734.5 488.1 741.1 489.0 750.0C490.1 761.2 491.2 771.6 492.3 780.0C493.0 785.7 493.8 789.9 494.5 795.0C495.3 799.9 496.0 805.3 496.7 810.0C497.3 814.5 498.0 820.6 498.7 822.6C499.4 824.6 500.1 826.6 500.8 826.6C501.5 826.6 502.2 824.5 502.9 822.6C503.7 820.5 504.4 814.4 505.2 810.0C506.0 805.2 506.9 799.8 507.7 795.0C508.6 789.8 509.5 785.2 510.4 780.0C511.6 773.6 512.7 767.5 513.8 760.1C515.0 752.8 516.1 743.0 517.2 735.1C518.5 726.3 519.7 717.5 521.0 710.1C522.2 702.7 523.4 696.7 524.7 690.0C525.4 685.8 526.2 681.5 527.0 677.4C527.8 673.1 528.6 669.1 529.5 665.0C530.3 660.8 531.1 656.4 532.0 652.5C532.9 648.0 533.8 644.0 534.8 640.0C535.8 635.7 536.8 631.3 537.8 627.5C539.0 622.9 540.2 618.5 541.3 615.0C542.6 611.4 543.8 608.1 545.0 605.6C546.2 603.1 547.5 600.6 548.7 599.4C550.0 598.1 551.2 596.6 552.5 596.6C553.7 596.6 555.0 597.0 556.2 597.5C557.0 597.8 557.9 598.6 558.7 599.4C559.7 600.3 560.8 601.6 561.8 602.8C562.9 604.0 563.9 605.7 565.0 606.7C566.0 607.8 567.0 608.6 568.1 609.2C569.1 609.8 570.2 610.5 571.2 610.6C572.2 610.7 573.3 610.7 574.3 610.7C575.4 610.7 576.4 610.4 577.4 610.3C578.3 610.2 579.1 610.2 579.9 610.2C580.8 610.2 581.6 610.9 582.4 611.5C583.3 612.2 584.1 613.6 584.9 615.0C585.8 616.4 586.7 617.9 587.6 620.0C588.6 622.6 589.6 627.0 590.7 631.3C591.7 635.6 592.8 641.1 593.8 646.3C594.9 651.5 595.9 657.4 596.9 662.6C598.0 667.8 599.0 673.4 600.1 677.6C601.1 681.7 602.2 686.2 603.2 688.2C604.1 690.0 605.0 692.0 605.9 692.0C606.9 692.0 607.9 690.5 608.8 688.9C609.7 687.5 610.5 683.5 611.3 680.1C612.2 676.7 613.0 671.8 613.8 667.6C614.7 663.4 615.5 658.4 616.3 655.1C617.2 651.8 618.0 648.4 618.8 646.9C619.7 645.4 620.5 644.0 621.3 643.8C622.2 643.7 623.0 643.6 623.8 643.6C624.7 643.6 625.5 644.2 626.3 645.1C627.2 645.9 628.0 648.6 628.8 651.3C629.7 654.0 630.5 658.1 631.4 662.6C632.1 666.6 632.9 672.1 633.6 677.6C634.3 682.8 635.0 688.9 635.7 695.1C636.4 700.6 637.0 706.6 637.6 712.6C638.2 718.7 638.9 724.7 639.5 731.4C640.0 737.2 640.6 743.7 641.1 750.2C641.6 756.2 642.1 753.7 642.6 769.0C642.7 771.0 642.7 807.1 642.8 810.1C643.4 834.5 643.9 830.9 644.4 841.4C645.0 851.8 645.5 862.6 646.1 872.6C646.5 880.4 646.9 890.2 647.3 895.2C647.6 898.7 647.9 903.3 648.2 903.3C648.7 903.3 649.3 899.3 649.8 895.2C650.3 891.4 650.8 880.5 651.3 872.6C651.9 862.8 652.6 852.5 653.2 841.4C653.7 831.7 654.3 819.7 654.8 810.1C655.3 801.1 655.8 795.4 656.3 785.0C656.8 776.0 657.2 760.1 657.6 750.2C658.0 740.7 658.5 732.8 658.9 725.2C659.4 716.0 659.9 708.1 660.4 700.1C660.9 691.4 661.5 682.4 662.0 675.1C662.6 666.6 663.3 659.1 663.9 652.6C664.5 646.0 665.1 639.7 665.8 635.0C666.6 628.9 667.4 623.5 668.3 620.0C669.1 616.5 669.9 613.4 670.8 611.9C671.6 610.4 672.4 609.2 673.3 608.8C673.9 608.4 674.5 608.1 675.1 608.1C676.0 608.1 676.8 608.7 677.7 609.4C678.5 610.1 679.3 612.6 680.2 615.0C681.0 617.4 681.8 621.2 682.7 625.0C683.5 628.9 684.3 633.8 685.2 638.8C686.0 643.8 686.8 649.6 687.7 655.1C688.5 660.5 689.3 666.1 690.2 671.3C691.0 676.5 691.8 682.1 692.7 686.4C693.5 690.6 694.3 694.9 695.2 697.6C696.0 700.3 696.8 702.7 697.7 703.9C698.5 705.1 699.3 706.4 700.2 706.4C700.8 706.4 701.4 706.4 702.1 706.4C702.9 706.4 703.7 704.7 704.6 703.3C705.6 701.4 706.6 697.4 707.7 693.9C708.7 690.3 709.8 685.5 710.8 681.4C711.9 677.2 712.9 672.5 713.9 668.8C715.0 665.1 716.0 661.2 717.1 658.8C718.1 656.4 719.2 653.6 720.2 653.2C721.2 652.8 722.3 652.6 723.3 652.6C724.4 652.6 725.4 653.8 726.5 655.1C727.5 656.3 728.5 659.7 729.6 662.6C730.6 665.4 731.7 669.5 732.7 672.6C733.8 675.7 734.8 679.3 735.8 681.4C736.7 683.0 737.5 685.1 738.3 685.1C739.0 685.1 739.6 685.1 740.2 685.1C741.0 685.1 741.7 683.4 742.5 681.4C743.1 679.8 743.6 673.5 744.2 670.1C745.3 664.0 746.3 660.3 747.4 653.8C748.2 648.7 749.0 642.9 749.9 635.0C750.0 633.6 750.2 631.7 750.3 630.0C751.0 622.2 751.6 613.3 752.3 605.2C753.0 596.7 753.7 587.9 754.4 580.2C755.3 571.1 756.1 563.5 756.9 555.2C757.8 546.8 758.6 538.4 759.4 530.1C760.4 520.6 761.4 510.4 762.3 502.0C763.2 493.9 764.2 487.4 765.1 480.1C766.1 471.7 767.2 463.1 768.2 455.0C769.3 446.4 770.5 437.9 771.6 430.0C775.7 401.3 779.8 373.6 783.9 350.3C786.8 333.6 789.7 322.3 792.6 305.2C794.9 292.1 797.1 272.6 799.4 260.2C801.9 246.4 804.4 237.7 806.9 225.1C808.9 215.1 810.9 202.5 812.9 192.6C814.7 183.5 816.6 173.8 818.4 167.5C820.1 161.9 821.7 156.3 823.4 153.8C824.7 151.8 826.1 149.9 827.4 149.5C828.4 149.2 829.4 149.0 830.4 149.0C831.8 149.0 833.3 150.1 834.7 151.3C836.1 152.5 837.5 156.3 838.9 160.0C840.2 163.4 841.4 167.9 842.7 173.8C843.8 178.9 844.9 187.8 845.9 195.1C847.0 202.4 848.1 211.1 849.2 217.6C850.8 227.2 852.4 233.5 853.9 242.6C855.8 253.2 857.6 264.9 859.5 277.7C860.9 287.6 862.3 300.6 863.7 310.2C865.8 324.4 867.9 336.2 870.0 347.8C872.4 361.2 874.8 372.4 877.2 385.3C879.6 398.2 882.1 411.1 884.5 425.4C886.7 438.6 889.0 452.4 891.2 467.9C892.9 479.4 894.6 492.6 896.2 505.5C898.3 521.5 900.4 540.9 902.5 555.0C904.2 566.4 905.8 574.7 907.5 585.1C909.2 595.5 910.8 605.1 912.5 617.6C913.8 627.0 915.0 638.9 916.3 650.2C917.5 661.4 918.8 673.5 920.0 685.2C921.3 696.9 922.5 708.6 923.8 720.2C924.9 730.3 925.9 742.4 927.0 750.3C927.8 755.7 928.5 762.1 929.3 764.0C929.9 765.7 930.6 767.3 931.3 767.3C932.1 767.3 932.9 765.0 933.8 762.8C934.8 760.2 935.8 753.6 936.8 747.8C937.9 741.5 939.0 732.6 940.0 725.2C941.3 716.7 942.5 708.1 943.8 700.2C945.0 692.3 946.3 683.7 947.5 677.7C948.8 671.7 950.1 665.6 951.3 662.7C952.6 659.7 953.8 656.9 955.1 656.4C956.1 656.0 957.2 655.7 958.3 655.7C959.5 655.7 960.6 658.1 961.8 660.2C963.1 662.6 964.5 667.9 965.8 672.7C967.2 677.7 968.7 684.0 970.1 690.2C971.3 695.7 972.6 702.9 973.8 707.7C975.1 712.6 976.3 717.9 977.6 720.2C978.7 722.3 979.8 724.5 980.8 724.5C982.0 724.5 983.2 722.3 984.3 720.2C985.7 717.9 987.0 712.2 988.3 707.7C989.5 703.8 990.7 698.1 991.8 695.2C993.2 691.9 994.5 688.4 995.9 687.7C997.1 687.0 998.4 686.4 999.6 686.4C1000.9 686.4 1002.1 688.8 1003.4 691.5C1004.4 693.6 1005.4 699.5 1006.4 705.2C1007.4 710.9 1008.4 719.2 1009.4 727.7C1010.5 737.0 1011.5 747.5 1012.6 760.3C1013.5 770.1 1014.3 782.9 1015.1 795.3C1016.0 807.8 1016.8 821.4 1017.6 835.4C1018.3 846.6 1019.0 859.4 1019.6 870.4C1020.2 880.1 1020.8 891.5 1021.4 898.0C1022.0 904.4 1022.5 913.0 1023.1 913.0C1023.8 913.0 1024.5 909.3 1025.1 905.5C1025.8 901.6 1026.5 889.9 1027.1 880.4C1027.9 869.7 1028.6 855.5 1029.4 842.9C1030.2 828.8 1031.1 814.1 1031.9 800.3C1032.7 786.6 1033.6 772.7 1034.4 760.3C1035.5 744.1 1036.6 728.8 1037.6 715.2C1038.9 699.6 1040.2 685.0 1041.4 672.7C1042.7 660.4 1043.9 648.4 1045.2 640.1C1046.4 631.9 1047.7 624.7 1048.9 620.1C1050.2 615.5 1051.4 611.3 1052.7 609.6C1053.9 607.9 1055.2 606.3 1056.4 606.3C1057.7 606.3 1058.9 608.2 1060.2 610.1C1061.4 612.0 1062.7 615.3 1063.9 622.6C1064.5 626.0 1065.1 641.7 1065.7 647.5C1066.5 655.9 1067.3 660.3 1068.2 666.3C1069.0 672.3 1069.8 678.2 1070.7 683.8C1071.5 689.5 1072.3 695.7 1073.2 700.1C1074.0 704.5 1074.9 708.7 1075.7 711.4C1076.5 714.0 1077.4 716.7 1078.2 717.6C1079.0 718.6 1079.9 719.5 1080.7 719.5C1081.5 719.5 1082.4 718.2 1083.2 717.0C1084.0 715.8 1084.9 713.0 1085.7 710.1C1086.5 707.3 1087.4 702.8 1088.2 698.8C1089.0 694.9 1089.9 690.3 1090.7 686.3C1091.5 682.4 1092.4 678.1 1093.2 675.1C1094.0 672.1 1094.9 669.2 1095.7 667.6C1096.5 665.9 1097.4 664.2 1098.2 663.8C1098.9 663.5 1099.6 663.2 1100.3 663.2C1101.1 663.2 1101.8 663.8 1102.6 664.4C1103.4 665.2 1104.3 667.6 1105.1 670.1C1105.9 672.6 1106.8 676.6 1107.6 681.3C1108.2 684.9 1108.8 690.1 1109.5 695.1C1110.1 700.1 1110.7 705.6 1111.4 711.4C1112.0 717.2 1112.6 723.7 1113.2 730.1C1113.9 736.6 1114.5 743.5 1115.1 750.2C1115.7 756.8 1116.4 763.3 1117.0 770.2C1117.6 777.1 1118.2 784.6 1118.9 791.5C1119.5 798.3 1120.1 801.4 1120.7 811.5C1121.4 822.3 1122.1 861.9 1122.7 880.4C1124.0 916.4 1125.3 967.6 1126.6 967.6C1128.8 967.6 1131.0 865.7 1133.2 820.0C1133.7 811.4 1134.1 803.5 1134.5 795.2C1134.9 786.9 1135.3 778.5 1135.8 770.2C1136.2 761.8 1136.6 753.5 1137.0 745.2C1137.4 736.8 1137.8 727.7 1138.3 720.1C1138.8 711.0 1139.3 703.1 1139.8 695.1C1140.3 686.4 1140.8 677.8 1141.4 670.1C1142.0 661.1 1142.6 652.2 1143.3 645.0C1143.9 637.9 1144.5 633.5 1145.1 626.3C1145.9 617.1 1146.7 598.5 1147.5 592.8C1149.0 582.1 1150.5 577.6 1152.0 572.8C1153.7 567.4 1155.4 563.3 1157.0 560.3C1159.1 556.5 1161.2 554.0 1163.3 551.5C1165.4 549.1 1167.5 547.0 1169.5 545.3C1171.6 543.5 1173.7 541.4 1175.8 540.8C1177.5 540.3 1179.1 539.8 1180.8 539.8C1182.5 539.8 1184.1 541.1 1185.8 542.8C1187.2 544.1 1188.6 548.6 1190.1 552.8C1191.6 557.2 1193.1 564.1 1194.6 570.3C1196.1 576.5 1197.6 583.5 1199.1 590.3C1200.5 596.8 1201.9 604.3 1203.3 610.4C1204.8 616.8 1206.3 623.5 1207.8 627.9C1209.3 632.0 1210.7 636.8 1212.1 637.9C1213.5 639.0 1214.9 639.9 1216.3 639.9C1217.7 639.9 1219.0 636.8 1220.3 634.1C1221.8 631.3 1223.2 625.4 1224.6 620.4C1225.9 615.9 1227.1 610.4 1228.4 605.3C1229.6 600.3 1230.9 594.6 1232.1 590.3C1233.4 586.0 1234.6 581.7 1235.9 579.1C1237.1 576.4 1238.4 573.5 1239.6 572.8C1240.9 572.1 1242.1 571.6 1243.4 571.6C1244.6 571.6 1245.9 572.7 1247.1 574.1C1248.4 575.4 1249.6 580.5 1250.9 585.3C1252.1 590.1 1253.4 597.4 1254.6 605.3C1255.7 612.2 1256.8 621.3 1257.9 630.4C1258.9 638.8 1259.9 647.9 1260.9 657.9C1261.7 666.3 1262.6 676.3 1263.4 685.4C1264.2 694.6 1265.1 700.8 1265.9 713.0C1266.7 725.2 1267.6 749.6 1268.4 767.5C1269.1 781.9 1269.7 795.4 1270.4 810.1C1271.0 823.0 1271.6 837.7 1272.2 850.2C1272.7 862.6 1273.3 874.0 1273.9 885.2C1274.4 894.8 1274.9 908.3 1275.4 912.7C1276.0 917.9 1276.6 922.7 1277.2 922.7C1278.0 922.7 1278.8 919.4 1279.7 915.2C1280.3 911.9 1281.0 900.5 1281.7 890.2C1282.2 881.2 1282.8 866.5 1283.4 855.2C1284.1 842.2 1284.8 829.4 1285.4 817.6C1286.2 804.3 1286.9 791.5 1287.7 780.1C1288.5 767.3 1289.3 756.6 1290.2 745.0C1291.3 730.0 1292.3 713.0 1293.4 700.5C1294.4 688.9 1295.4 679.1 1296.4 670.4C1297.5 661.0 1298.6 652.0 1299.7 645.4C1300.8 638.8 1301.9 632.4 1302.9 629.1C1304.1 625.6 1305.3 622.3 1306.4 621.6C1307.7 620.9 1308.9 620.4 1310.2 620.4C1311.4 620.4 1312.7 623.6 1314.0 626.6C1315.2 629.6 1316.5 636.5 1317.7 642.9C1318.8 648.4 1319.9 655.8 1321.0 662.9C1322.0 670.0 1323.1 678.1 1324.2 685.4C1325.2 692.2 1326.2 700.8 1327.2 705.5C1328.3 710.5 1329.4 717.0 1330.5 717.0C1331.7 717.0 1333.0 715.2 1334.2 713.0C1335.2 711.2 1336.2 703.4 1337.2 698.0C1338.2 692.6 1339.2 685.8 1340.2 680.4C1341.3 674.6 1342.4 668.1 1343.5 664.2C1344.5 660.5 1345.5 656.6 1346.5 655.4C1347.6 654.1 1348.7 652.9 1349.7 652.9C1351.0 652.9 1352.2 655.2 1353.5 657.9C1354.5 660.1 1355.5 667.0 1356.5 672.9C1357.4 678.4 1358.3 686.0 1359.2 693.0C1360.1 699.3 1360.9 703.9 1361.8 713.0C1362.6 722.0 1363.4 740.9 1364.3 755.0C1364.8 764.9 1365.4 774.3 1366.0 785.1C1366.7 797.4 1367.3 811.8 1368.0 825.1C1368.8 840.1 1369.5 855.2 1370.3 870.2C1370.9 883.5 1371.6 898.3 1372.3 910.2C1372.9 922.2 1373.6 937.6 1374.3 942.8C1375.1 949.3 1375.9 953.6 1376.8 955.3C1377.8 957.3 1378.8 959.0 1379.8 959.0C1380.6 959.0 1381.4 954.9 1382.3 950.3C1382.9 946.5 1383.6 934.2 1384.3 925.2C1385.0 915.2 1385.8 902.1 1386.5 892.7C1387.4 882.3 1388.2 871.3 1389.0 865.2C1390.1 857.2 1391.2 850.8 1392.3 847.6C1393.5 844.0 1394.8 840.5 1396.0 840.1C1397.1 839.8 1398.2 839.6 1399.3 839.6C1400.3 839.6 1401.3 842.6 1402.3 845.1C1403.3 847.7 1404.3 853.5 1405.3 857.7C1406.4 862.2 1407.5 867.7 1408.6 871.4C1409.6 874.9 1410.6 879.0 1411.6 880.2C1412.5 881.2 1413.4 882.2 1414.3 882.2C1415.3 882.2 1416.3 879.9 1417.3 877.7C1418.3 875.5 1419.3 870.7 1420.3 865.2C1421.2 860.1 1422.2 850.6 1423.1 842.6C1424.1 834.0 1425.1 824.7 1426.1 815.1C1427.1 805.5 1428.1 795.1 1429.1 785.1C1430.0 775.9 1430.9 766.9 1431.8 757.5C1433.5 740.6 1435.2 719.4 1436.8 705.5C1438.3 693.6 1439.7 684.7 1441.1 675.4C1442.8 664.6 1444.4 654.0 1446.1 645.4C1447.8 636.8 1449.4 628.9 1451.1 622.9C1452.8 616.9 1454.4 611.5 1456.1 607.8C1457.8 604.2 1459.4 600.8 1461.1 599.1C1462.8 597.3 1464.4 595.7 1466.1 595.3C1467.4 595.1 1468.6 594.8 1469.9 594.8C1471.1 594.8 1472.4 595.8 1473.6 596.6C1475.3 597.7 1477.0 600.1 1478.6 602.8C1480.3 605.6 1482.0 610.5 1483.6 615.4C1485.3 620.2 1487.0 626.3 1488.6 632.9C1490.3 639.4 1492.0 647.5 1493.6 655.4C1495.3 663.3 1497.0 671.3 1498.7 680.4C1500.3 689.5 1502.0 697.5 1503.7 710.5C1504.9 720.2 1506.2 737.2 1507.4 750.0C1508.4 760.3 1509.4 768.5 1510.4 780.1C1511.3 790.7 1512.3 804.5 1513.2 817.6C1514.0 829.5 1514.8 842.6 1515.7 855.2C1516.5 867.7 1517.3 880.2 1518.2 892.7C1519.0 905.2 1519.8 917.7 1520.7 930.3C1521.5 942.8 1522.3 954.6 1523.2 967.8C1523.9 979.7 1524.7 993.5 1525.4 1005.3C1526.1 1015.9 1526.8 1028.6 1527.4 1035.4C1528.1 1042.2 1528.8 1050.9 1529.4 1050.9C1530.2 1050.9 1530.9 1044.3 1531.7 1037.9C1532.4 1032.1 1533.0 1015.8 1533.7 1005.3C1534.5 992.3 1535.4 980.3 1536.2 967.8C1537.0 955.3 1537.9 941.7 1538.7 930.3C1539.7 916.6 1540.7 904.7 1541.7 892.7C1542.8 879.7 1543.9 866.8 1545.0 855.2C1546.2 841.7 1547.5 828.7 1548.7 817.6C1550.0 806.5 1551.2 796.1 1552.5 787.6C1553.9 777.9 1555.3 769.2 1556.7 762.5C1558.2 755.5 1559.7 750.7 1561.2 745.0C1563.3 737.2 1565.4 728.4 1567.5 722.3C1568.7 718.7 1570.0 715.3 1571.2 712.9C1572.5 710.6 1573.7 708.6 1575.0 707.3C1576.5 705.7 1578.1 704.6 1579.7 703.6C1581.2 702.5 1582.8 701.9 1584.3 700.8C1585.9 699.6 1587.5 698.0 1589.0 696.1C1590.3 694.6 1591.5 692.8 1592.8 690.5C1594.0 688.1 1595.3 684.7 1596.5 681.1C1597.8 677.4 1599.0 672.9 1600.3 668.0C1601.5 663.1 1602.8 656.7 1604.0 651.1C1605.3 645.5 1606.5 639.5 1607.8 634.2C1609.0 629.0 1610.3 623.5 1611.5 619.3C1612.8 615.0 1614.0 611.1 1615.3 608.0C1616.5 604.9 1617.8 601.8 1619.0 600.1C1620.3 598.5 1621.5 597.0 1622.8 596.4C1623.8 595.9 1624.9 595.5 1626.0 595.5C1627.1 595.5 1628.2 596.1 1629.3 596.8C1630.6 597.5 1631.8 600.1 1633.1 602.4C1634.5 605.0 1635.9 608.5 1637.4 612.7C1638.6 616.4 1639.9 621.6 1641.1 626.8C1642.4 631.9 1643.6 637.8 1644.9 643.6C1646.2 649.7 1647.5 655.8 1648.8 662.4C1650.0 668.3 1651.2 673.9 1652.4 681.1C1653.7 689.0 1655.0 698.7 1656.3 709.4C1657.0 715.1 1657.7 722.4 1658.5 728.7C1659.9 742.0 1661.4 754.3 1662.9 767.5C1664.3 780.1 1665.7 793.6 1667.2 806.2C1668.6 819.4 1670.1 832.5 1671.6 844.9C1673.2 858.4 1674.8 870.7 1676.5 883.6C1678.1 896.5 1679.7 910.3 1681.3 922.4C1682.6 932.0 1683.9 940.1 1685.2 949.5C1685.9 955.1 1686.7 963.1 1687.5 966.9C1688.1 970.1 1688.8 974.1 1689.4 974.1C1690.1 974.1 1690.8 970.0 1691.5 966.9C1692.5 962.9 1693.4 955.6 1694.3 949.5C1695.5 941.1 1696.7 931.6 1697.9 922.4C1699.6 909.7 1701.3 895.6 1703.0 883.6C1704.9 869.8 1706.8 856.8 1708.8 844.9C1711.0 831.0 1713.3 818.2 1715.5 806.2C1718.1 792.4 1720.7 779.6 1723.3 767.5C1726.2 753.8 1729.1 740.4 1732.0 728.7C1733.1 724.4 1734.1 721.3 1735.2 716.7C1736.5 711.4 1737.7 703.9 1739.0 698.0C1740.2 692.0 1741.5 686.0 1742.7 681.1C1744.2 675.4 1745.6 670.3 1747.0 666.1" fill="none" stroke="#02A820" stroke-width="8.9" stroke-linejoin="round" stroke-linecap="butt"/>
<rect x="1095.2" y="18.4" width="699.5" height="210.1" fill="#fff" stroke="#242424" stroke-width="8.3"/>
<line x1="1104" y1="73.3" x2="1190.3" y2="73.3" stroke="#F8530B" stroke-width="8.3"/>
<line x1="1104" y1="174.5" x2="1190.3" y2="174.5" stroke="#02A820" stroke-width="8.5"/>
<g font-family="'Liberation Serif', 'DejaVu Serif', serif" font-size="73" fill="#000">
<text id="lg1" x="1196.5" y="88.8" textLength="270" lengthAdjust="spacingAndGlyphs">CS array</text>
<text id="lg2" x="1196.5" y="189.4" textLength="589" lengthAdjust="spacingAndGlyphs">non-uniform array</text>
</g>
<g font-family="'Liberation Serif', 'DejaVu Serif', serif" font-size="77" fill="#242424">
<text x="252.9" y="1478" text-anchor="middle">-1</text>
<text x="617.5999999999999" y="1478" text-anchor="middle">-0.5</text>
<text x="982.4" y="1478" text-anchor="middle">0</text>
<text x="1347.1" y="1478" text-anchor="middle">0.5</text>
<text x="1711.85" y="1478" text-anchor="middle">1</text>
<text x="205" y="257.5" text-anchor="end">30</text>
<text x="205" y="520.0" text-anchor="end">20</text>
<text x="205" y="782.5" text-anchor="end">10</text>
<text x="205" y="1045.1" text-anchor="end">0</text>
<text x="205" y="1307.6" text-anchor="end">-10</text>
</g>
<g font-family="'Liberation Serif', 'DejaVu Serif', serif" font-size="72" fill="#242424">
<text id="xl" x="892.5" y="1574.6" textLength="206" lengthAdjust="spacingAndGlyphs"><tspan font-style="italic">θ</tspan> [rad]</text>
<text id="yl" transform="translate(69.2 956) rotate(-90)" x="0" y="0" textLength="500" lengthAdjust="spacingAndGlyphs">Amplitude [dB]</text>
</g>
</svg>
</body></html>
